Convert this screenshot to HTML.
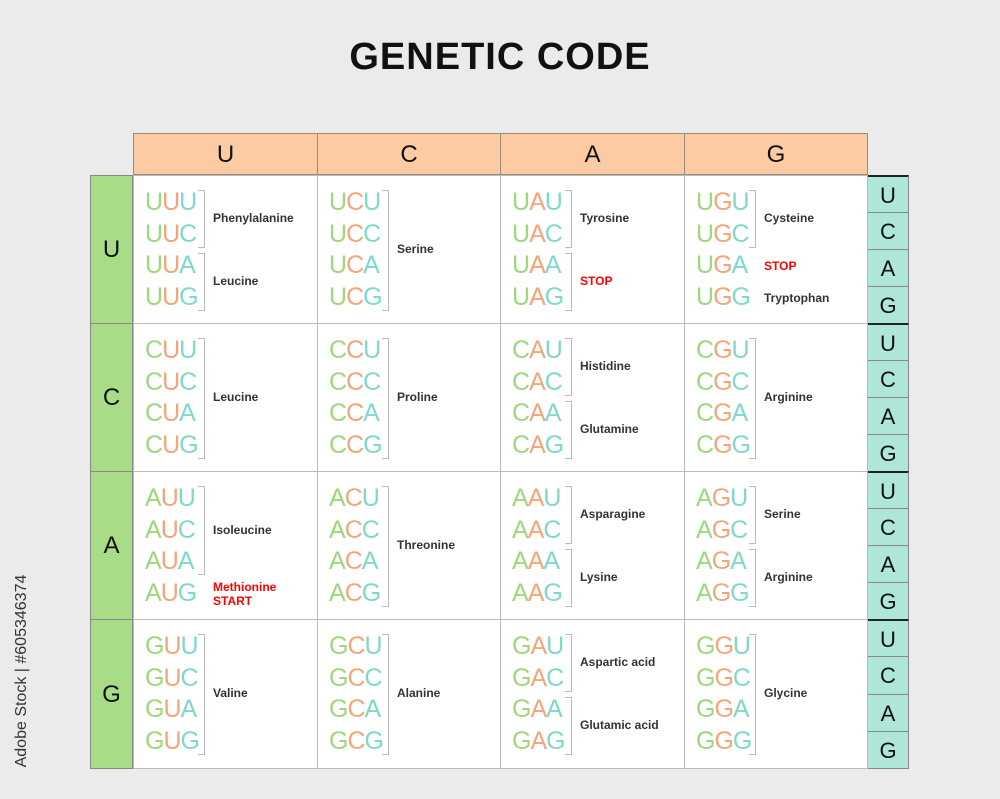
<!DOCTYPE html>
<html><head><meta charset="utf-8"><style>
body{margin:0;width:1000px;height:799px;background:#ebebeb;font-family:"Liberation Sans",sans-serif;position:relative;overflow:hidden}
.a{position:absolute}
.t{position:absolute;left:0;width:1000px;top:36px;text-align:center;font-size:38px;font-weight:bold;color:#111;letter-spacing:1px}
.h{position:absolute;top:133px;height:42px;background:#fccaa3;border:1px solid #9a8a7a;box-sizing:border-box;text-align:center;line-height:42px;font-size:24px;color:#111}
.l{position:absolute;left:90px;width:43px;background:#a8dc86;border:1px solid #888;box-sizing:border-box;text-align:center;font-size:24px;color:#111}
.r{position:absolute;left:867px;width:42px;background:#aee6d8;border:1px solid #888;box-sizing:border-box;text-align:center;font-size:22px;color:#111}
.c{position:absolute;background:#fff;border:1px solid #bbb;box-sizing:border-box}
.cd{position:absolute;font-size:25px;line-height:25px;letter-spacing:-1px}
.lb{position:absolute;font-size:12px;font-weight:bold;color:#333;line-height:14px}
.br{position:absolute;width:6px;border:1px solid #bbb;border-left:none}
</style></head><body>
<div class="t">GENETIC CODE</div>
<div class="a" style="left:-88px;top:662px;width:220px;transform:rotate(-90deg);font-size:16px;color:#333;text-align:center;white-space:nowrap">Adobe Stock | #605346374</div>
<div id="root"></div>
<script>
const bases=['U','C','A','G'];
const colX=[133,317,500,684,867];
const rowY=[175,323,471,619,768];
const baseColors=['#9ed77c','#f5a57a','#7fd9cb'];
const groups=[
[[[0,1,'Phenylalanine',1],[2,3,'Leucine',1]],[[0,3,'Serine',1]],[[0,1,'Tyrosine',1],[2,3,'STOP',1,1]],[[0,1,'Cysteine',1],[2,2,'STOP',0,1],[3,3,'Tryptophan',0]]],
[[[0,3,'Leucine',1]],[[0,3,'Proline',1]],[[0,1,'Histidine',1],[2,3,'Glutamine',1]],[[0,3,'Arginine',1]]],
[[[0,2,'Isoleucine',1],[3,3,'Methionine\nSTART',0,1]],[[0,3,'Threonine',1]],[[0,1,'Asparagine',1],[2,3,'Lysine',1]],[[0,1,'Serine',1],[2,3,'Arginine',1]]],
[[[0,3,'Valine',1]],[[0,3,'Alanine',1]],[[0,1,'Aspartic acid',1],[2,3,'Glutamic acid',1]],[[0,3,'Glycine',1]]]
];
const root=document.getElementById('root');
function mk(cls,name,css,txt){const e=document.createElement('div');e.className=cls;e.style.cssText=css;if(txt!==undefined)e.textContent=txt;


root.appendChild(e);return e;}
for(let j=0;j<4;j++){mk('h','header-'+bases[j],`left:${colX[j]}px;width:${colX[j+1]-colX[j]+1}px`,bases[j]);}
for(let i=0;i<4;i++){
 const y0=rowY[i],h=rowY[i+1]-y0;
 mk('l','first-base-'+bases[i],`top:${y0}px;height:${h+1}px;line-height:${h}px`,bases[i]);
 for(let k=0;k<4;k++){const ry=y0+k*h/4;mk('r','third-base-'+bases[k],`top:${ry}px;height:${h/4+1}px;line-height:${h/4}px;${k==0?'border-top:2px solid #222;':''}`,bases[k]);}
 for(let j=0;j<4;j++){
  const x0=colX[j];
  mk('c','cell-'+bases[i]+bases[j],`left:${x0}px;top:${y0}px;width:${colX[j+1]-x0+1}px;height:${h+1}px`);
  const cy=k=>y0+27+k*31.5;
  for(let k=0;k<4;k++){
   const e=mk('cd','codon-'+bases[i]+bases[j]+bases[k],`left:${x0+12}px;top:${cy(k)-12}px`);
   [bases[i],bases[j],bases[k]].forEach((b,n)=>{const s=document.createElement('span');s.style.color=baseColors[n];s.textContent=b;e.appendChild(s);});
  }
  groups[i][j].forEach(g=>{
   const t=cy(g[0])-12,b=cy(g[1])+12,m=(cy(g[0])+cy(g[1]))/2;
   if(g[3])mk('br','bracket',`left:${x0+65}px;top:${t}px;height:${b-t}px`);
   const lines=g[2].split('\n');
   const e=mk('lb','amino-acid-label',`left:${x0+80}px;top:${m-7-(lines.length-1)*7+(g[3]?0:1)}px;${g[4]?'color:#f00;':''}`);
   e.innerHTML=lines.join('<br>');
  });
 }
}
</script>
</body></html>
